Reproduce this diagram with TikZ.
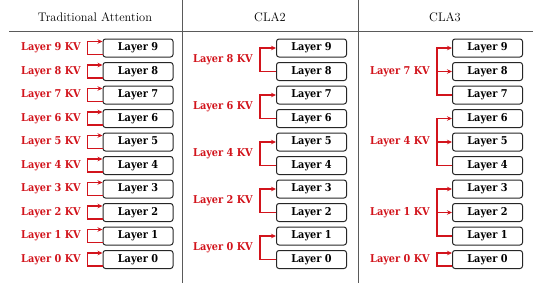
\documentclass[tikz,border=0pt]{standalone}
\usepackage{fontspec}
\usetikzlibrary{arrows.meta}
\newfontfamily\lblfont{DejaVu Serif Condensed}
\definecolor{kvred}{RGB}{210,20,28}
\definecolor{sepgray}{RGB}{90,90,90}
\tikzset{
  layerbox/.style={draw=black!85, line width=1pt, rounded corners=2.5pt, minimum width=70pt, minimum height=18pt, inner sep=0pt, font=\lblfont\bfseries\fontsize{10.8}{11}\selectfont},
  kvlabel/.style={anchor=east, inner sep=0pt, text=kvred, font=\lblfont\bfseries\fontsize{10.8}{11}\selectfont},
  kvline/.style={draw=kvred, line width=1.2pt},
  kvarrow/.style={kvline, -{Stealth[length=5pt,width=4.5pt]}},
  headtext/.style={font=\fontsize{12.4}{13}\selectfont, inner sep=0pt},
  sepline/.style={draw=sepgray, line width=0.9pt}
}
\begin{document}
\begin{tikzpicture}[x=1pt,y=-1pt]
\useasboundingbox (0,0) rectangle (541,287);
% headers and separators
\node[headtext] (h1) at (95,17) {Traditional Attention};
\node[headtext] (h2) at (270,17) {CLA2};
\node[headtext] (h3) at (445,17) {CLA3};
\coordinate (hl) at (9,31);
\coordinate (hr) at (533,31);
\draw[sepline] (hl) -- (hr);
\coordinate (s1t) at (182.7,0);
\coordinate (s1b) at (182.7,283);
\coordinate (s2t) at (358,0);
\coordinate (s2b) at (358,283);
\draw[sepline] (s1t) -- (s1b);
\draw[sepline] (s2t) -- (s2b);
% boxes
\foreach \k in {0,...,9}{
  \pgfmathsetmacro{\yy}{259.5-23.5*\k}
  \node[layerbox] (a\k) at (138,\yy) {Layer \k};
  \node[layerbox] (b\k) at (311.5,\yy) {Layer \k};
  \node[layerbox] (c\k) at (487.5,\yy) {Layer \k};
  % column 1 labels and self loops
  \node[kvlabel] (la\k) at (81,\yy) {Layer \k{} KV};
  \draw[kvarrow] ([yshift=-6.5pt]a\k.west) -- ([yshift=-6.5pt,xshift=-15pt]a\k.west) |- ([yshift=6.5pt]a\k.west);
}
% column 2
\foreach \j/\u in {0/1,2/3,4/5,6/7,8/9}{
  \path (b\j.west) -- (b\u.west) coordinate[midway] (mb\j);
  \node[kvlabel] (lb\j) at ([xshift=-23pt]mb\j) {Layer \j{} KV};
  \draw[kvarrow] (b\j.west) -- ([xshift=-16pt]b\j.west) |- (b\u.west);
}
% column 3
\foreach \j/\m/\u in {1/2/3,4/5/6,7/8/9}{
  \node[kvlabel] (lc\j) at ([xshift=-22pt]c\m.west) {Layer \j{} KV};
  \coordinate (bc\j) at ([xshift=-15pt]c\j.west);
  \draw[kvarrow] (c\j.west) -- (bc\j) |- (c\u.west);
  \draw[kvarrow] (bc\j |- c\m.west) -- (c\m.west);
}
\node[kvlabel] (lc0) at ([xshift=-22pt]c0.west) {Layer 0 KV};
\draw[kvarrow] ([yshift=-6.5pt]c0.west) -- ([yshift=-6.5pt,xshift=-15pt]c0.west) |- ([yshift=6.5pt]c0.west);
\end{tikzpicture}
\end{document}
